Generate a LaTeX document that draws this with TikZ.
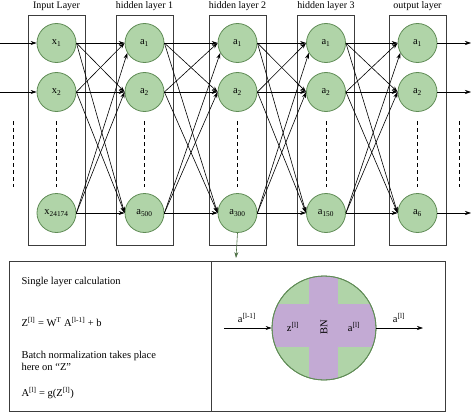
\documentclass[tikz,border=0pt]{standalone}
\usepackage{fontspec}
\setmainfont{Liberation Serif}
\usetikzlibrary{arrows.meta}

\definecolor{nodegreen}{RGB}{176,212,168}
\definecolor{nodeborder}{RGB}{96,140,86}
\definecolor{bnpurple}{RGB}{195,170,212}
\definecolor{boxgray}{RGB}{60,60,60}

\tikzset{
    neuron/.style = {circle, draw = nodeborder, fill = nodegreen, line width = 0.8pt,
                     minimum size = 39pt, inner sep = 0pt, font = \fontsize{10.5}{12}\selectfont},
    layerbox/.style = {draw = boxgray, line width = 0.8pt},
    title/.style = {font = \fontsize{10}{12}\selectfont},
    panel/.style = {font = \fontsize{10.5}{12.5}\selectfont},
    link/.style = {-{Stealth[length = 6pt, width = 4pt]}, line width = 0.6pt},
    dots/.style = {line width = 0.7pt, dash pattern = on 4pt off 3pt}
}

\begin{document}
\begin{tikzpicture}[x = 1pt, y = -1pt]
        \useasboundingbox ( 0, 0 ) rectangle ( 474, 412 );

        % высоты узлов
        \def \Ya { 43 };
        \def \Yb { 92 };
        \def \Yc { 213 };

        % слои
        \foreach \l/\x/\name/\sym/\last in {0/56.5/Input Layer/x/24174, 1/144.5/hidden layer 1/a/500,
                                            2/237.5/hidden layer 2/a/300, 3/326/hidden layer 3/a/150,
                                            4/417.5/output layer/a/6} {
            \draw [layerbox] ( \x - 28.5, 15 ) rectangle ( \x + 28.5, 245 );
            \node [title] (T\l) at ( \x, 6 ) {\name};
            \node [neuron] (n\l1) at ( \x, \Ya ) {\sym\textsubscript{1}};
            \node [neuron] (n\l2) at ( \x, \Yb ) {\sym\textsubscript{2}};
            \node [neuron] (n\l3) at ( \x, \Yc ) {\sym\textsubscript{\last}};
            \draw [dots] ( \x, 121 ) -- ( \x, 187 );
        }

        % пунктир по краям
        \draw [dots] ( 13, 121 ) -- ( 13, 187 );
        \draw [dots] ( 459, 121 ) -- ( 459, 187 );

        % связи
        \foreach \l/\m in {0/1, 1/2, 2/3, 3/4} {
            \foreach \s/\t/\a in {1/1/west, 1/2/west, 1/3/west, 2/1/west, 2/2/west,
                                  2/3/west, 3/1/210, 3/2/west, 3/3/west} {
                \draw [link] (n\l\s.east) -- (n\m\t.\a);
            }
        }

        % входы и выходы
        \coordinate (inA) at ( 0, \Ya );
        \coordinate (inB) at ( 0, \Yb );
        \draw [link] (inA) -- (n01.west);
        \draw [link] (inB) -- (n02.west);
        \coordinate (outA) at ( 471, \Ya );
        \coordinate (outB) at ( 471, \Yb );
        \coordinate (outC) at ( 471, \Yc );
        \draw [link] (n41.east) -- (outA);
        \draw [link] (n42.east) -- (outB);
        \draw [link] (n43.east) -- (outC);

        % стрелка к нижней панели
        \coordinate (zoomEnd) at ( 236, 258 );
        \draw [link, nodeborder!80!black] (n23.south) -- (zoomEnd);

        % нижняя панель
        \draw [layerbox] ( 9, 261 ) rectangle ( 445, 411 );
        \draw [layerbox] ( 211, 261 ) -- ( 211, 411 );

        % формулы
        \node [panel, anchor = west] (calc) at ( 18, 282 ) {Single layer calculation};
        \node [panel, anchor = west] (zeq) at ( 18, 322 )
            {Z\textsuperscript{[l]} = W\textsuperscript{T} A\textsuperscript{[l-1]} + b};
        \node [panel, anchor = west, align = left] (bnote) at ( 18, 361 )
            {Batch normalization takes place\\here on “Z”};
        \node [panel, anchor = west] (aeq) at ( 18, 393 )
            {A\textsuperscript{[l]} = g(Z\textsuperscript{[l]})};

        % нейрон с BN
        \node [circle, draw = nodeborder, fill = nodegreen, line width = 0.8pt,
               minimum size = 104pt, inner sep = 0pt,
               path picture = {
                   \fill [bnpurple] ( -15, -70 ) rectangle ( 14, 70 );
                   \fill [bnpurple] ( -70, -24 ) rectangle ( 70, 19 );
               }] (bn) at ( 324, 328 ) {};
        \draw [draw = nodeborder, line width = 0.8pt] (bn) circle [radius = 52];
        \node [panel] (zl) at ( 293, 327 ) {z\textsuperscript{[l]}};
        \node [panel, rotate = 90] (bnlabel) at ( 324, 327 ) {BN};
        \node [panel] (al) at ( 354, 327 ) {a\textsuperscript{[l]}};

        % вход и выход нейрона
        \coordinate (bnIn) at ( 224, 328 );
        \coordinate (bnOut) at ( 423, 328 );
        \draw [link] (bnIn) -- (bn.west);
        \draw [link] (bn.east) -- (bnOut);
        \node [panel] (ainlabel) at ( 247, 318 ) {a\textsuperscript{[l-1]}};
        \node [panel] (aoutlabel) at ( 399, 318 ) {a\textsuperscript{[l]}};
    \end{tikzpicture}
\end{document}
